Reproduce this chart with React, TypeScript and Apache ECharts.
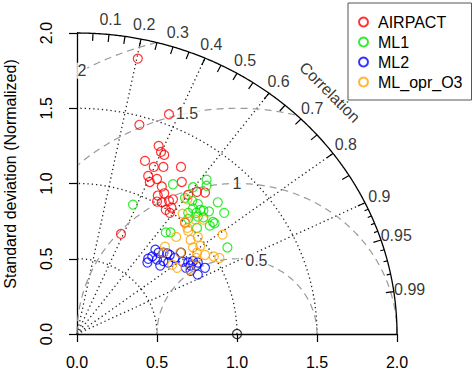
import React, { useEffect, useRef } from "react";
import * as echarts from "echarts";

const seriesNames = ["AIRPACT", "ML1", "ML2", "ML_opr_O3"];
const seriesColors = ["#FF0000", "#00E600", "#0000FF", "#FFA500"];

const airpact = [
  [0.38, 1.83], [0.575, 1.46], [0.39, 1.39], [0.51, 1.25], [0.525, 1.21], [0.545, 1.19],
  [0.425, 1.15], [0.48, 1.11], [0.54, 1.11], [0.65, 1.11], [0.445, 1.05], [0.5, 1.03],
  [0.455, 1.01], [0.655, 1.01], [0.53, 0.98], [0.505, 0.92], [0.545, 0.935], [0.5, 0.88],
  [0.53, 0.875], [0.575, 0.885], [0.6, 0.895], [0.555, 0.825], [0.59, 0.84], [0.58, 0.805],
  [0.695, 0.925], [0.75, 0.945], [0.8, 0.94], [0.275, 0.665], [0.675, 0.74],
];
const ml1 = [
  [0.35, 0.86], [0.555, 0.675], [0.585, 0.675], [0.6, 0.995], [0.725, 0.975], [0.81, 1.025],
  [0.81, 0.985], [0.72, 0.885], [0.755, 0.865], [0.725, 0.835], [0.77, 0.825], [0.695, 0.805],
  [0.745, 0.805], [0.79, 0.82], [0.825, 0.815], [0.88, 0.875], [0.92, 0.805], [0.695, 0.765],
  [0.755, 0.78], [0.79, 0.775], [0.85, 0.745], [0.83, 0.72], [0.75, 0.705], [0.86, 0.735],
  [0.94, 0.575], [0.675, 0.905],
];
const ml2 = [
  [0.44, 0.475], [0.445, 0.5], [0.49, 0.56], [0.51, 0.54], [0.54, 0.54], [0.58, 0.525],
  [0.65, 0.54], [0.5, 0.495], [0.54, 0.485], [0.57, 0.475], [0.52, 0.455], [0.61, 0.505],
  [0.66, 0.48], [0.695, 0.475], [0.71, 0.455], [0.745, 0.455], [0.725, 0.485], [0.755, 0.475],
  [0.68, 0.44], [0.8, 0.44], [0.755, 0.395], [0.71, 0.42], [0.47, 0.515], [0.565, 0.535],
];
const mlOprO3 = [
  [0.69, 0.895], [0.66, 0.8], [0.675, 0.745], [0.74, 0.76], [0.79, 0.76], [0.69, 0.705],
  [0.62, 0.645], [0.695, 0.685], [0.755, 0.645], [0.71, 0.625], [0.77, 0.585], [0.75, 0.54],
  [0.8, 0.525], [0.855, 0.515], [0.89, 0.505], [0.91, 0.66], [0.55, 0.58], [0.54, 0.54],
  [0.645, 0.54], [0.625, 0.44], [0.705, 0.425], [0.725, 0.575], [0.595, 0.46], [0.745, 0.505],
];
const seriesData = [airpact, ml1, ml2, mlOprO3];

const corrLabels = [0.1, 0.2, 0.3, 0.4, 0.5, 0.6, 0.7, 0.8, 0.9, 0.95, 0.99];
const corrTicks = [0.05, 0.1, 0.15, 0.2, 0.25, 0.3, 0.35, 0.4, 0.45, 0.5, 0.55, 0.6, 0.65, 0.7, 0.75, 0.8, 0.85, 0.9, 0.95, 0.99];
const corrSmallTicks = [0.91, 0.92, 0.93, 0.94, 0.96, 0.97, 0.98];
const radialCors = [0.2, 0.4, 0.6, 0.8, 0.9];
const sdArcs = [0.5, 1, 1.5];
const gammaLevels = [0.5, 1, 1.5, 2];
const gammaLabels = ["0.5", "1", "1.5", "2"];
const gammaLabelAngles = [76, 90, 102, 119];
const refSd = 1;
const maxSd = 2;

const FONT = "Liberation Sans, Arial, sans-serif";

function arc(cx: number, cy: number, r: number, a0: number, a1: number, filter?: (x: number, y: number) => boolean) {
  const pts: number[][] = [];
  const n = 360;
  for (let i = 0; i <= n; i++) {
    const a = ((a0 + (a1 - a0) * (i / n)) * Math.PI) / 180;
    const x = cx + r * Math.cos(a);
    const y = cy + r * Math.sin(a);
    if (!filter || filter(x, y)) pts.push([x, y]);
  }
  return pts;
}

function polar(r: number, c: number) {
  const a = Math.acos(c);
  return [r * Math.cos(a), r * Math.sin(a)];
}

function segmentSeries(segs: number[][][], style: any, z: number) {
  return {
    type: "custom",
    silent: true,
    clip: false,
    z,
    data: segs.map((s) => [s[0][0], s[0][1], s[1][0], s[1][1]]),
    renderItem: (_params: any, api: any) => {
      const p1 = api.coord([api.value(0), api.value(1)]);
      const p2 = api.coord([api.value(2), api.value(3)]);
      return {
        type: "line",
        shape: { x1: p1[0], y1: p1[1], x2: p2[0], y2: p2[1] },
        style,
      };
    },
  };
}

export default function App() {
  const ref = useRef<HTMLDivElement>(null);
  useEffect(() => {
    if (!ref.current) return;
    const chart = echarts.init(ref.current, null, { renderer: "svg" });

    const series: any[] = [];
    series.push({
      type: "line", data: arc(0, 0, maxSd, 0, 90), showSymbol: false, silent: true, clip: false,
      lineStyle: { color: "#000", width: 1.3 }, z: 3,
    });
    sdArcs.forEach((r) => {
      series.push({
        type: "line", data: arc(0, 0, r, 0, 90), showSymbol: false, silent: true,
        lineStyle: { color: "#222", width: 1.3, type: [1.3, 3] }, z: 2,
      });
    });
    gammaLevels.forEach((g) => {
      series.push({
        type: "line",
        data: arc(refSd, 0, g, 0, 180, (x, y) => x >= -1e-9 && x * x + y * y <= maxSd * maxSd + 1e-9),
        showSymbol: false, silent: true,
        lineStyle: { color: "#9a9a9a", width: 1.2, type: [7, 5] }, z: 2,
      });
    });
    series.push(
      segmentSeries(
        radialCors.map((c) => [[0, 0], polar(maxSd, c)]),
        { stroke: "#222", lineWidth: 1.3, lineDash: [1.3, 3] },
        2
      )
    );
    series.push(
      segmentSeries(
        corrTicks.map((c) => [polar(maxSd, c), polar(maxSd * 0.975, c)]).concat(
          corrSmallTicks.map((c) => [polar(maxSd, c), polar(maxSd * 0.9875, c)])
        ),
        { stroke: "#000", lineWidth: 1.2 },
        3
      )
    );
    series.push({
      type: "scatter", silent: true, symbolSize: 0, z: 4, clip: false,
      data: corrLabels.map((c) => ({ value: polar(maxSd * 1.05, c), name: String(c) })),
      label: {
        show: true, position: "inside", formatter: (p: any) => p.name,
        color: "#000", fontSize: 16, fontFamily: FONT,
      },
    });
    series.push({
      type: "scatter", silent: true, symbolSize: 0, z: 4, clip: false,
      data: [{ value: [1.58, 1.607], name: "Correlation" }],
      label: {
        show: true, position: "inside", formatter: (p: any) => p.name, rotate: -45,
        color: "#000", fontSize: 16, fontFamily: FONT,
      },
    });
    series.push({
      type: "scatter", silent: true, symbolSize: 0, z: 4, clip: false,
      data: gammaLevels.map((g, i) => {
        const a = (gammaLabelAngles[i] * Math.PI) / 180;
        return { value: [refSd + g * Math.cos(a), g * Math.sin(a)], name: gammaLabels[i] };
      }),
      label: {
        show: true, position: "inside", formatter: (p: any) => p.name,
        color: "#000", fontSize: 16, fontFamily: FONT, backgroundColor: "#fff", padding: [0, 1],
      },
    });
    series.push({
      type: "scatter", silent: true, data: [[refSd, 0]], symbol: "circle", symbolSize: 9, z: 5, clip: false,
      itemStyle: { color: "transparent", borderColor: "#000", borderWidth: 1.2 },
    });
    seriesData.forEach((d, i) => {
      series.push({
        type: "scatter", name: seriesNames[i], data: d, symbol: "circle", symbolSize: 9, z: 6 + i,
        itemStyle: { color: "transparent", borderColor: seriesColors[i], borderWidth: 1.2 },
      });
    });

    chart.setOption({
      animation: false,
      backgroundColor: "#fff",
      grid: { left: 77, right: 77, top: 33, bottom: 39 },
      xAxis: {
        type: "value", min: 0, max: 2, interval: 0.5,
        axisLine: { show: true, lineStyle: { color: "#000", width: 1.3 } },
        axisTick: { show: true, length: 8, lineStyle: { color: "#000", width: 1.2 } },
        axisLabel: { formatter: (v: number) => v.toFixed(1), color: "#000", fontSize: 16, fontFamily: FONT, margin: 20 },
        splitLine: { show: false },
      },
      yAxis: {
        type: "value", min: 0, max: 2, interval: 0.5,
        axisLine: { show: true, lineStyle: { color: "#000", width: 1.3 } },
        axisTick: { show: true, length: 8, lineStyle: { color: "#000", width: 1.2 } },
        axisLabel: { formatter: (v: number) => v.toFixed(1), color: "#000", fontSize: 16, fontFamily: FONT, margin: 23, rotate: 90 },
        splitLine: { show: false },
      },
      legend: {
        data: seriesNames, orient: "vertical", left: 348, top: 3,
        padding: [11, 9, 10, 10], itemGap: 4, itemWidth: 9, itemHeight: 9, icon: "circle",
        borderColor: "#555", borderWidth: 1, backgroundColor: "#fff",
        textStyle: { color: "#000", fontSize: 16, fontFamily: FONT, lineHeight: 16, padding: [0, 0, 0, 5] },
      },
      graphic: [
        {
          type: "text", x: 10, y: 174, rotation: Math.PI / 2,
          style: {
            text: "Standard deviation (Normalized)", fill: "#000", fontSize: 16, fontFamily: FONT,
            align: "center", verticalAlign: "middle",
          },
        },
      ],
      series,
    });
    return () => chart.dispose();
  }, []);
  return <div ref={ref} style={{ position: "absolute", left: 0, top: 0, width: 474, height: 373 }} />;
}
